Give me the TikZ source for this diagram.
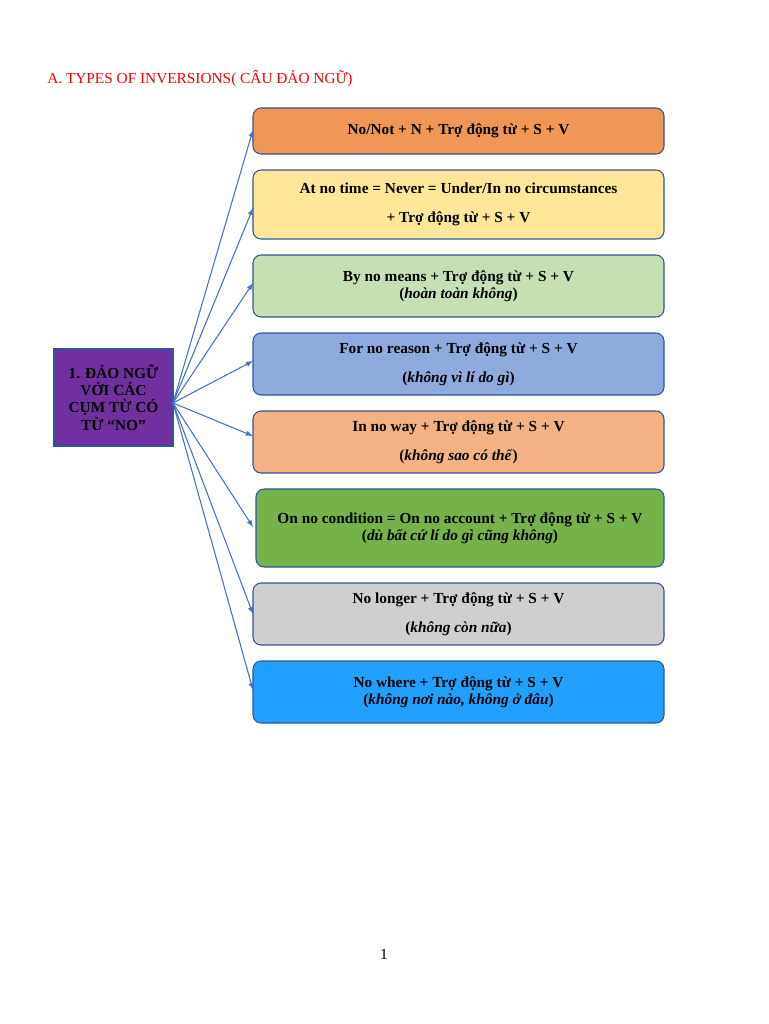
\documentclass[tikz,border=0pt]{standalone}
\usepackage{fontspec}
\setmainfont{Liberation Serif}
\usepackage{xcolor}
\definecolor{edgeblue}{HTML}{2F5597}
\definecolor{arrowblue}{HTML}{4472C4}
\begin{document}
\begin{tikzpicture}[x=0.75pt,y=0.75pt,yscale=-1,xscale=1,
  box/.style={draw=edgeblue,line width=0.8pt,rounded corners=6pt,minimum width=411*0.75pt,
    align=center,inner sep=0pt,font=\fontsize{11.5}{13}\selectfont\bfseries},
  link/.style={draw=arrowblue,line width=0.8pt,-latex}]
\useasboundingbox (0,0) rectangle (768,1024);

% Title
\node (title) [anchor=west,inner sep=0pt,text=red,font=\fontsize{11.5}{13}\selectfont] at (47,79) {A. TYPES OF INVERSIONS( CÂU ĐẢO NGỮ)};

% Root
\node (root) [draw=edgeblue,fill={rgb,255:red,112;green,48;blue,160},line width=0.8pt,minimum width=119*0.75pt,minimum height=97*0.75pt,
  align=center,inner sep=0pt,font=\fontsize{11.5}{13}\selectfont\bfseries] at (113.5,397.5) {1. ĐẢO NGỮ\\VỚI CÁC\\CỤM TỪ CÓ\\TỪ “NO”};

% Branches
\node (b1) [box,fill={rgb,255:red,240;green,150;blue,86},minimum height=46*0.75pt] at (458.5,131) {No/Not + N + Trợ động từ + S + V};
\node (b2) [box,fill={rgb,255:red,255;green,230;blue,153},minimum height=69*0.75pt] at (458.5,204.5) {At no time = Never = Under/In no circumstances\\[9pt] + Trợ động từ + S + V};
\node (b3) [box,fill={rgb,255:red,198;green,224;blue,180},minimum height=62*0.75pt] at (458.5,286) {By no means + Trợ động từ + S + V\\(\textit{hoàn toàn không})};
\node (b4) [box,fill={rgb,255:red,143;green,170;blue,220},minimum height=62*0.75pt] at (458.5,364) {For no reason + Trợ động từ + S + V\\[9pt](\textit{không vì lí do gì})};
\node (b5) [box,fill={rgb,255:red,244;green,177;blue,131},minimum height=62*0.75pt] at (458.5,442) {In no way + Trợ động từ + S + V\\[9pt](\textit{không sao có thể})};
\node (b6) [box,fill={rgb,255:red,118;green,178;blue,74},minimum width=408*0.75pt,minimum height=78*0.75pt] at (460,528) {On no condition = On no account + Trợ động từ + S + V\\(\textit{dù bất cứ lí do gì cũng không})};
\node (b7) [box,fill={rgb,255:red,208;green,206;blue,206},minimum height=62*0.75pt] at (458.5,614) {No longer + Trợ động từ + S + V\\[9pt](\textit{không còn nữa})};
\node (b8) [box,fill={rgb,255:red,34;green,160;blue,255},minimum height=62*0.75pt] at (458.5,692) {No where + Trợ động từ + S + V\\(\textit{không nơi nào, không ở đâu})};

% Links
\coordinate (hub) at (173,403);
\foreach \b/\y in {b1/130,b2/208,b3/283,b4/361,b5/436,b6/527,b7/614,b8/690}
  \draw [link] (hub) -- (253,\y);

% Page number
\node (page) [inner sep=0pt,font=\fontsize{11.5}{13}\selectfont] at (384,954) {1};
\end{tikzpicture}
\end{document}
